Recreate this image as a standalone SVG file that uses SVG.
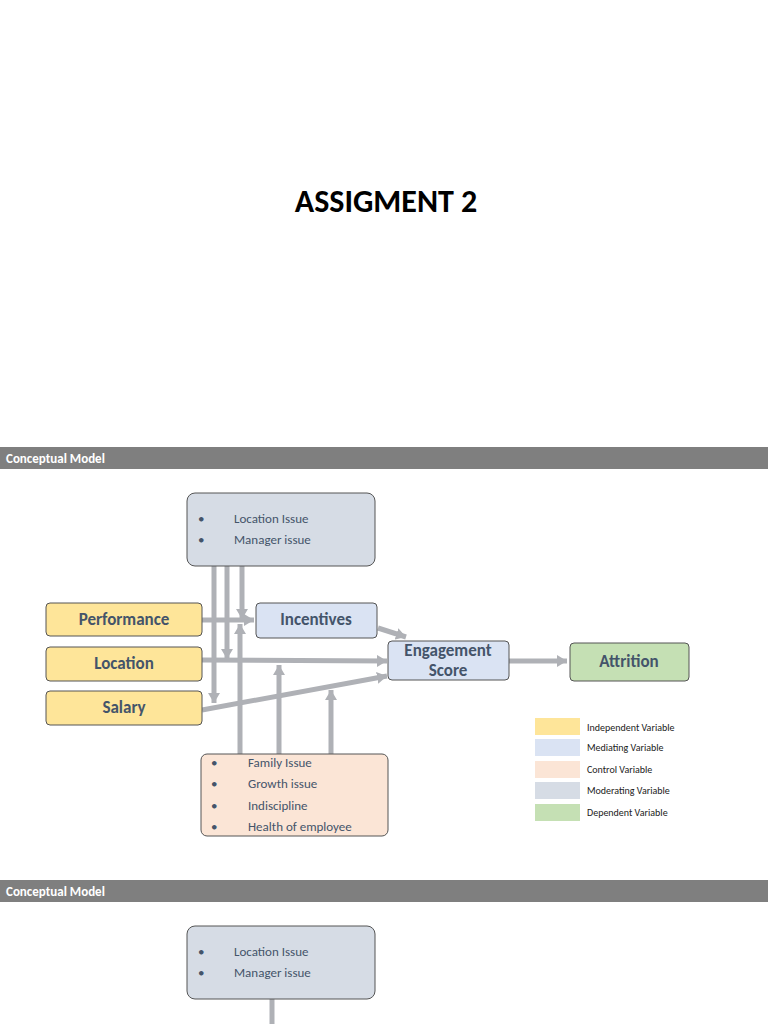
<svg xmlns="http://www.w3.org/2000/svg" width="768" height="1024" viewBox="0 0 768 1024">
<style>
text{font-family:Calibri,"Liberation Sans",Carlito,sans-serif}
.hdr{fill:#7f7f7f}
.ht{fill:#fff;font-size:13px;font-weight:bold}
.iv{fill:#fee599;stroke:#555;stroke-width:1}
.mv{fill:#dae3f3;stroke:#555;stroke-width:1}
.cv{fill:#fbe5d6;stroke:#555;stroke-width:1}
.mod{fill:#d6dce5;stroke:#555;stroke-width:1}
.dv{fill:#c5e0b4;stroke:#555;stroke-width:1}
.nt{fill:#44546a;font-size:17px;font-weight:bold;text-anchor:middle}
.bt{fill:#44546a;font-size:13px}
.lg{fill:#222;font-size:10px}
.c{stroke:#afb1b6;stroke-width:5;fill:none;marker-end:url(#ah)}
</style>
<defs><marker id="ah" markerUnits="userSpaceOnUse" markerWidth="12" markerHeight="12" refX="10" refY="6" orient="auto"><path d="M0,0 L10,6 L0,12z" fill="#afb1b6"/></marker></defs>
<rect width="768" height="1024" fill="#fff"/>
<text x="386" y="212" font-size="32" font-weight="bold" text-anchor="middle" fill="#000">ASSIGMENT 2</text>
<rect class="hdr" x="0" y="447" width="768" height="22"/>
<text class="ht" x="6" y="463">Conceptual Model</text>
<g id="connectors">
<line class="c" x1="214" y1="566" x2="214" y2="703"/>
<line class="c" x1="227" y1="566" x2="227" y2="659"/>
<line class="c" x1="242" y1="566" x2="242" y2="619"/>
<line class="c" x1="240" y1="754" x2="240" y2="624"/>
<line class="c" x1="279" y1="754" x2="279" y2="665"/>
<line class="c" x1="331" y1="754" x2="331" y2="690"/>
<line class="c" x1="202" y1="620" x2="254" y2="620"/>
<line class="c" x1="202" y1="660" x2="387" y2="661"/>
<line class="c" x1="202" y1="710" x2="387" y2="676"/>
<line class="c" x1="378" y1="628" x2="406" y2="637"/>
<line class="c" x1="509" y1="661" x2="567" y2="661"/>
</g>
<g id="moderating"><rect class="mod" x="187" y="493" width="188" height="73" rx="8"/>
<text class="bt" x="198" y="523">•</text><text class="bt" x="234" y="523">Location Issue</text>
<text class="bt" x="198" y="544">•</text><text class="bt" x="234" y="544">Manager issue</text></g>
<g id="performance"><rect class="iv" x="46" y="603" width="156" height="33" rx="4"/><text class="nt" x="124" y="625">Performance</text></g>
<g id="location"><rect class="iv" x="46" y="647" width="156" height="34" rx="4"/><text class="nt" x="124" y="669">Location</text></g>
<g id="salary"><rect class="iv" x="46" y="691" width="156" height="34" rx="4"/><text class="nt" x="124" y="713">Salary</text></g>
<g id="incentives"><rect class="mv" x="256" y="603" width="121" height="35" rx="4"/><text class="nt" x="316" y="625">Incentives</text></g>
<g id="engagement"><rect class="mv" x="388" y="641" width="121" height="39" rx="4"/><text class="nt" x="448" y="656" font-size="16">Engagement</text><text class="nt" x="448" y="676" font-size="16">Score</text></g>
<g id="attrition"><rect class="dv" x="570" y="643" width="119" height="38" rx="4"/><text class="nt" x="629" y="667">Attrition</text></g>
<g id="control"><rect class="cv" x="201" y="754" width="187" height="82" rx="6"/>
<text class="bt" x="211" y="767">•</text><text class="bt" x="248" y="767">Family Issue</text>
<text class="bt" x="211" y="788">•</text><text class="bt" x="248" y="788">Growth issue</text>
<text class="bt" x="211" y="810">•</text><text class="bt" x="248" y="810">Indiscipline</text>
<text class="bt" x="211" y="831">•</text><text class="bt" x="248" y="831">Health of employee</text></g>
<g id="legend">
<rect x="535" y="718" width="45" height="17" fill="#fee599"/><text class="lg" x="587" y="731">Independent Variable</text>
<rect x="535" y="739" width="45" height="17" fill="#dae3f3"/><text class="lg" x="587" y="751">Mediating Variable</text>
<rect x="535" y="761" width="45" height="17" fill="#fbe5d6"/><text class="lg" x="587" y="773">Control Variable</text>
<rect x="535" y="782" width="45" height="17" fill="#d6dce5"/><text class="lg" x="587" y="794">Moderating Variable</text>
<rect x="535" y="804" width="45" height="17" fill="#c5e0b4"/><text class="lg" x="587" y="816">Dependent Variable</text>
</g>
<rect class="hdr" x="0" y="880" width="768" height="22"/>
<text class="ht" x="6" y="896">Conceptual Model</text>
<line x1="272" y1="999" x2="272" y2="1024" stroke="#afb1b6" stroke-width="5"/>
<g id="moderating2"><rect class="mod" x="187" y="926" width="188" height="73" rx="8"/>
<text class="bt" x="198" y="956">•</text><text class="bt" x="234" y="956">Location Issue</text>
<text class="bt" x="198" y="977">•</text><text class="bt" x="234" y="977">Manager issue</text></g>
</svg>
